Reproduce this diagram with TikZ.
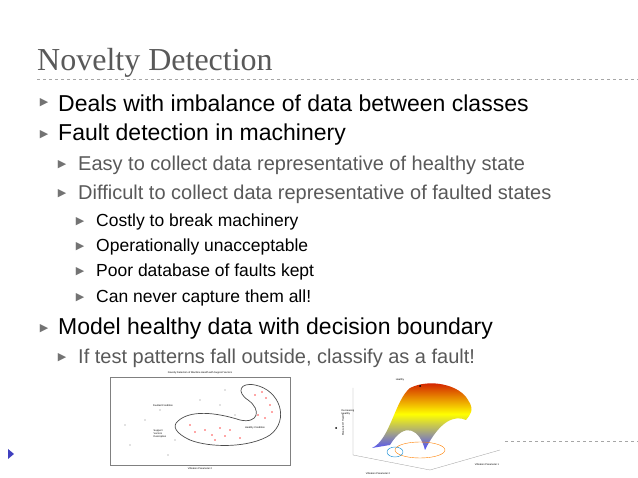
\documentclass[tikz,border=0pt]{standalone}
\usepackage{fontspec}
\setmainfont{Liberation Sans}
\newfontfamily\ttl{Liberation Serif}
\newfontfamily\sym{DejaVu Sans}
\begin{document}
\begin{tikzpicture}[x=1pt,y=-1pt,
  la/.style={anchor=west,font=\fontsize{23}{26}\selectfont,text=black,inner sep=0},
  lb/.style={anchor=west,font=\fontsize{20}{22}\selectfont,text=black!65,inner sep=0},
  lc/.style={anchor=west,font=\fontsize{17.5}{20}\selectfont,text=black,inner sep=0},
  bul/.style={anchor=center,font=\sym\fontsize{11}{11}\selectfont,text=black!55,inner sep=0},
  tiny/.style={font=\fontsize{2.5}{3}\selectfont,inner sep=0}]
\useasboundingbox (0,0) rectangle (638,478);
\node[anchor=base west,inner sep=0,font=\ttl\fontsize{32}{34}\selectfont,text=black!65] (title) at (37,71) {Novelty Detection};
\draw[black!35,dashed,line width=0.6] (37,79) -- (638,79);
\draw[black!35,dashed,line width=0.6] (505,441) -- (638,441);
\fill[blue!50!gray] (8,449) -- (14,454) -- (8,459) -- cycle;
% level 1
\foreach \y/\t in {103/{Deals with imbalance of data between classes},135/{Fault detection in machinery},329/{Model healthy data with decision boundary}}{
  \node[bul] at (44,\y) {▶}; \node[la] at (58,\y) {\t};}
\foreach \y/\t in {165/{Easy to collect data representative of healthy state},194/{Difficult to collect data representative of faulted states},358/{If test patterns fall outside, classify as a fault!}}{
  \node[bul] at (62,\y) {▶}; \node[lb] at (78,\y) {\t};}
\foreach \y/\t in {222/{Costly to break machinery},247/{Operationally unacceptable},272/{Poor database of faults kept},298/{Can never capture them all!}}{
  \node[bul] at (80,\y) {▶}; \node[lc] at (96,\y) {\t};}
% left plot
\draw[black!50,line width=0.4] (110,377) rectangle (290,465);
\node[tiny] (pt) at (200,373) {Novelty Detection of Machine Health with Support Vectors};
\draw[black!70,line width=0.7] (178,421) .. controls (190,410) and (215,412) .. (240,420)
  .. controls (258,424) and (262,410) .. (248,400) .. controls (236,392) and (240,382) .. (255,385)
  .. controls (280,390) and (290,420) .. (270,435) .. controls (250,448) and (210,448) .. (190,440)
  .. controls (175,433) and (172,426) .. (178,421);
\foreach \p in {(190,425),(195,432),(205,430),(212,435),(220,428),(225,436),(230,430),(255,395),(262,392),(266,398),(270,405),(258,415),(265,418),(272,412),(240,438),(215,440)}
  \fill[red!70] \p circle (0.8);
\foreach \p in {(125,425),(145,420),(160,410),(175,440),(200,400),(220,405),(235,415),(130,445),(168,455),(225,390)}
  \fill[black!50] \p circle (0.6);
\node[tiny] at (163,406) {Faulted Condition};
\node[tiny] at (255,428) {Healthy Condition};
\node[tiny,align=left] at (160,434) {Support\\Vectors\\Description};
\node[tiny] at (200,469) {Vibration Parameter 2};
% right plot
\shade[top color=red!80!black,bottom color=blue!70,middle color=yellow] (372,448) .. controls (390,440) and (395,400) .. (410,388) .. controls (430,378) and (460,385) .. (468,400) .. controls (475,410) and (470,415) .. (466,420) .. controls (455,415) and (440,420) .. (425,450) .. controls (420,430) and (405,420) .. (390,445) -- cycle;
\draw[black!40,line width=0.3] (353,388) -- (353,455) -- (430,470) -- (500,450);
\draw[orange,line width=0.4] (420,450) ellipse (25 and 8);
\draw[cyan!70!blue,line width=0.4] (395,452) ellipse (8 and 5);
\fill (420,386) circle (1);
\fill (336,428) circle (1);
\node[tiny] at (400,380) {Healthy};
\node[tiny,align=left] at (348,412) {Decreasing\\Healthy};
\node[tiny,rotate=90] at (343,425) {Measure Of Health};
\node[tiny] at (487,465) {Vibration Parameter 1};
\node[tiny] at (378,474) {Vibration Parameter 2};
\end{tikzpicture}
\end{document}
